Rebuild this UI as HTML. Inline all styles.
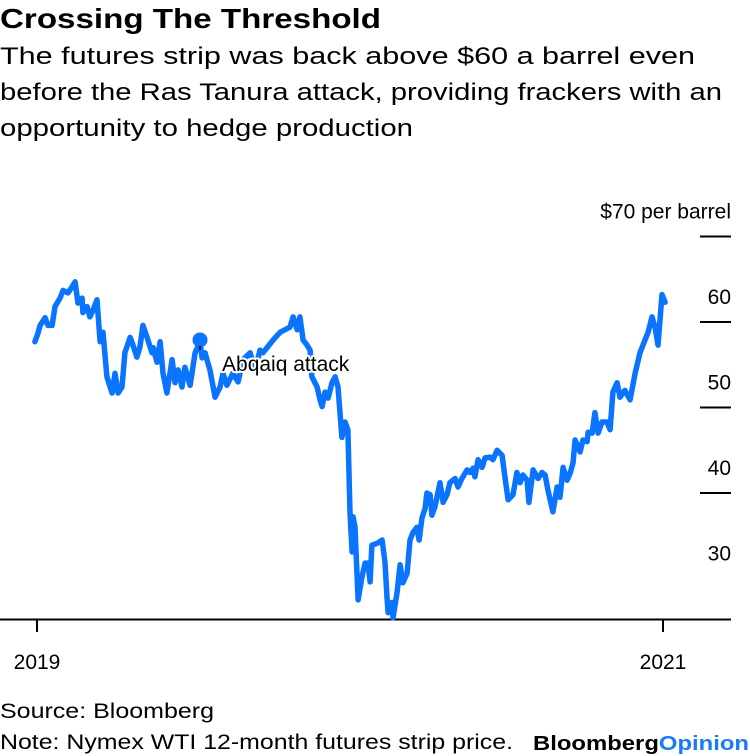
<!DOCTYPE html>
<html><head><meta charset="utf-8"><style>
html,body{margin:0;padding:0;background:#fff;width:750px;height:756px;overflow:hidden}
svg{display:block;font-family:"Liberation Sans",sans-serif}
</style></head><body>
<svg id="chart" width="750" height="756" viewBox="0 0 750 756">
<text x="0" y="28" font-size="28" font-weight="bold" textLength="381" lengthAdjust="spacingAndGlyphs">Crossing The Threshold</text>
<text x="0" y="64" font-size="24" textLength="695" lengthAdjust="spacingAndGlyphs">The futures strip was back above $60 a barrel even</text>
<text x="0" y="100" font-size="24" textLength="722" lengthAdjust="spacingAndGlyphs">before the Ras Tanura attack, providing frackers with an</text>
<text x="0" y="136" font-size="24" textLength="413" lengthAdjust="spacingAndGlyphs">opportunity to hedge production</text>
<g id="yaxis"></g>
<g id="xaxis"></g>
<g id="series"></g>
<text x="0" y="718" font-size="21" textLength="214" lengthAdjust="spacingAndGlyphs">Source: Bloomberg</text>
<text x="0" y="749" font-size="21" textLength="513" lengthAdjust="spacingAndGlyphs">Note: Nymex WTI 12-month futures strip price.</text>
<text x="533" y="750" font-size="20" font-weight="bold" textLength="216" lengthAdjust="spacingAndGlyphs">Bloomberg<tspan fill="#1a7cf5">Opinion</tspan></text>
</svg>
<script>
const months = [-0.08,0.04,0.12,0.31,0.42,0.58,0.69,0.88,1.00,1.19,1.34,1.46,1.57,1.73,1.76,1.92,2.03,2.15,2.30,2.42,2.53,2.68,2.88,2.99,3.11,3.26,3.37,3.57,3.68,3.83,3.95,4.06,4.22,4.41,4.45,4.60,4.72,4.83,4.98,5.18,5.29,5.41,5.56,5.67,5.87,6.06,6.25,6.33,6.44,6.63,6.83,7.02,7.13,7.28,7.51,7.71,7.90,8.17,8.36,8.55,8.66,8.82,9.05,9.32,9.51,9.70,9.82,9.97,10.08,10.20,10.35,10.47,10.54,10.74,10.85,10.93,11.04,11.16,11.31,11.43,11.54,11.69,11.81,11.92,12.00,12.08,12.12,12.19,12.31,12.46,12.58,12.69,12.77,12.84,13.04,13.23,13.34,13.42,13.46,13.61,13.65,13.80,13.92,14.03,14.19,14.30,14.42,14.57,14.65,14.76,14.88,14.95,15.07,15.14,15.26,15.45,15.57,15.72,15.83,16.03,16.14,16.29,16.49,16.60,16.72,16.79,16.91,17.06,17.18,17.37,17.48,17.64,17.83,17.94,18.06,18.25,18.40,18.52,18.63,18.79,18.86,19.02,19.21,19.36,19.48,19.59,19.78,19.94,20.05,20.17,20.32,20.44,20.55,20.63,20.82,20.93,21.09,21.13,21.28,21.39,21.51,21.66,21.85,21.97,22.08,22.24,22.35,22.54,22.74,22.93,23.12,23.31,23.43,23.58,23.70,23.81,23.96,24.08];
const prices = [57.7,58.7,59.6,60.5,59.6,59.6,61.8,62.8,63.7,63.4,64.1,64.7,62.2,62.8,61.1,61.8,60.6,61.4,62.6,57.7,58.8,53.6,51.7,54.0,51.7,52.4,56.4,58.2,57.3,55.9,57.1,59.6,58.2,56.4,57.0,55.3,57.7,54.0,51.7,55.6,52.9,54.4,52.4,54.7,52.6,56.4,57.7,55.8,56.4,54.4,51.2,52.4,54.0,52.6,54.0,53.0,55.6,56.4,54.4,56.7,56.4,57.0,57.9,58.8,59.1,59.4,60.6,59.1,60.6,57.9,57.3,56.7,53.6,52.4,50.9,50.1,51.8,51.1,52.9,53.6,52.4,46.5,48.3,47.4,37.7,33.1,37.2,36.0,27.5,30.2,31.8,31.8,29.6,33.9,34.1,34.5,31.9,27.8,26.0,27.2,25.4,28.3,31.6,29.5,30.6,34.5,35.4,36.0,34.5,37.1,38.2,40.0,39.8,37.4,38.4,41.2,38.9,39.8,41.2,41.7,40.7,41.7,42.7,42.4,42.9,41.9,43.9,43.0,44.1,44.2,43.9,45.0,44.4,41.9,39.2,39.8,42.4,41.2,42.1,41.5,38.9,42.7,41.7,42.4,42.1,40.3,37.8,40.7,39.5,43.0,41.5,42.3,43.5,46.2,44.8,46.2,46.0,47.1,47.0,49.4,47.0,48.3,48.3,47.4,51.8,52.9,51.2,52.0,50.9,54.0,56.4,57.9,58.8,60.6,59.3,57.3,63.2,62.3];
const yTicks = [70,60,50,40,30];
const yTickLabels = ["$70 per barrel","60","50","40","30"];
const xTicks = [0,24];
const xTickLabels = ["2019","2021"];
const annotationMonth = 6.25;
const annotationPrice = 57.9;
const annotationLabel = "Abqaiq attack";

const NS = "http://www.w3.org/2000/svg";
function xs(m){return 37 + m*(663-37)/24;}
function ys(v){return 322 - (v-60)*8.55;}
function mk(tag, attrs, parent){const e=document.createElementNS(NS,tag);for(const k in attrs)e.setAttribute(k,attrs[k]);parent.appendChild(e);return e;}

const yax=document.getElementById('yaxis');
yTicks.forEach((t,i)=>{
  const y=ys(t);
  if(t!==30){
    const l=mk('line',{x1:700,x2:731,y1:y,y2:y,stroke:'#000','stroke-width':2},yax);
    
    
  }
  const tx=mk('text',{x:731,y:y-18,'font-size':21,'text-anchor':'end'},yax);
  tx.textContent=yTickLabels[i];
  
  
});

const xax=document.getElementById('xaxis');
const base=mk('line',{x1:0,x2:731,y1:619.5,y2:619.5,stroke:'#000','stroke-width':2},xax);


xTicks.forEach((m,i)=>{
  const x=xs(m);
  const l=mk('line',{x1:x,x2:x,y1:619,y2:632,stroke:'#000','stroke-width':2},xax);
  
  
  const tx=mk('text',{x:x,y:669,'font-size':21,'text-anchor':'middle'},xax);
  tx.textContent=xTickLabels[i];
  
  
});

const ser=document.getElementById('series');
const d=months.map((m,i)=>(i?'L':'M')+xs(m).toFixed(1)+','+ys(prices[i]).toFixed(1)).join('');
const p=mk('path',{d:d,fill:'none',stroke:'#0a74ff','stroke-width':5.5,'stroke-linejoin':'round','stroke-linecap':'round'},ser);


const ax=xs(annotationMonth), ay=ys(annotationPrice);
const c=mk('circle',{cx:ax,cy:ay,r:7.5,fill:'#0a74ff'},ser);


const tk=mk('line',{x1:ax,x2:ax,y1:ay+6,y2:ay+10,stroke:'#000','stroke-width':1.5},ser);


const halo=mk('text',{x:ax+22,y:ay+31,'font-size':21,fill:'#fff',stroke:'#fff','stroke-width':4,'stroke-linejoin':'round'},ser);
halo.textContent=annotationLabel;


const at=mk('text',{x:ax+22,y:ay+31,'font-size':21,fill:'#000'},ser);
at.textContent=annotationLabel;


</script>
</body></html>
